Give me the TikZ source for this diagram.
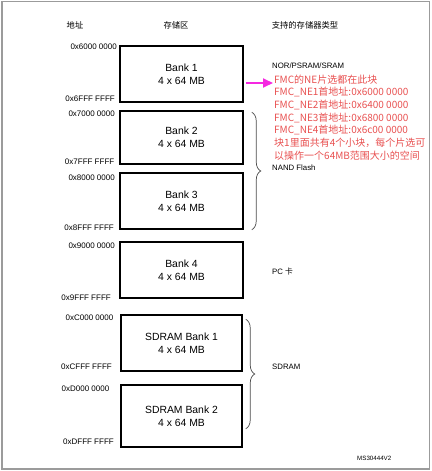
\documentclass[tikz,border=0pt]{standalone}
\usepackage{fontspec}
\setmainfont{Liberation Sans}
\newfontfamily\cjk{Noto Sans CJK SC}
\usepackage{xcolor}
\usepackage{tikz}
\usetikzlibrary{arrows.meta,decorations.pathreplacing,positioning,calc}

\definecolor{framegray}{RGB}{155,155,155}
\definecolor{notered}{RGB}{232,80,80}
\definecolor{arrowpink}{RGB}{245,40,225}

\tikzset{
  bankbox/.style={draw=black, line width=1.5pt, minimum width=123pt, minimum height=56pt, align=center, inner sep=0pt, font=\fontsize{10.4}{13.3}\selectfont},
  addr/.style={anchor=east, inner sep=0pt, font=\fontsize{8}{9}\selectfont},
  memtype/.style={anchor=west, inner sep=0pt, font=\fontsize{7.8}{9}\selectfont},
  header/.style={inner sep=0pt, font=\cjk\fontsize{8.3}{9}\selectfont},
  bankbrace/.style={decorate, decoration={brace, amplitude=9pt}, draw=black!70, line width=0.7pt},
  pinkarrow/.style={draw=arrowpink, line width=2pt, shorten <=2pt, -{Triangle[length=10pt,width=9pt]}}
}

\begin{document}
\begin{tikzpicture}[x=1pt,y=-1pt]
\useasboundingbox (0,0) rectangle (431,471);
\draw[framegray, line width=1.5pt] (2,1.5) rectangle (429.5,469);

% column heads
\node[header] (hAddr) at (75,25) {地址};
\node[header] (hBank) at (176,25) {存储区};
\node[header] (hType) at (305,25) {支持的存储器类型};

% memory banks
\node[bankbox] (bank1) at (181.5,74) {Bank 1\\4 x 64 MB};
\node[bankbox, minimum height=53pt] (bank2) at (181.5,137.5) {Bank 2\\4 x 64 MB};
\node[bankbox] (bank3) at (181.5,201) {Bank 3\\4 x 64 MB};
\node[bankbox] (bank4) at (181.5,270) {Bank 4\\4 x 64 MB};
\node[bankbox, minimum width=121pt] (sdram1) at (181.5,343) {SDRAM Bank 1\\4 x 64 MB};
\node[bankbox, minimum width=121pt, minimum height=62pt] (sdram2) at (181.5,416) {SDRAM Bank 2\\4 x 64 MB};

% addresses
\node[addr] (a1s) at (117,47) {0x6000 0000};
\node[addr] (a1e) at (115,99) {0x6FFF FFFF};
\node[addr] (a2s) at (115,114) {0x7000 0000};
\node[addr] (a2e) at (114.5,162) {0x7FFF FFFF};
\node[addr] (a3s) at (115,178) {0x8000 0000};
\node[addr] (a3e) at (114,227.5) {0x8FFF FFFF};
\node[addr] (a4s) at (115,246) {0x9000 0000};
\node[addr] (a4e) at (111,298) {0x9FFF FFFF};
\node[addr] (a5s) at (113.5,318) {0xC000 0000};
\node[addr] (a5e) at (112,367) {0xCFFF FFFF};
\node[addr] (a6s) at (109.5,389) {0xD000 0000};
\node[addr] (a6e) at (114,442) {0xDFFF FFFF};

% memory types
\node[memtype] (tNor) at (272,66) {NOR/PSRAM/SRAM};
\node[memtype] (tNand) at (272,168) {NAND Flash};
\node[memtype] (tPc) at (272,272) {PC {\cjk 卡}};
\node[memtype] (tSdram) at (272,367) {SDRAM};
\node[memtype, font=\fontsize{6.2}{7}\selectfont] (tRef) at (357,458) {MS30444V2};

\draw[bankbrace] ([xshift=8pt,yshift=-2pt]bank2.north east) -- ([xshift=8pt]bank3.south east);
\draw[bankbrace] ([xshift=3pt,yshift=-5pt]sdram1.north east) -- ([xshift=3pt,yshift=19pt]sdram2.south east);

% note on the NE chip selects
\node[anchor=north west, inner sep=0pt, align=left, text=notered, font=\cjk\fontsize{10}{12.7}\selectfont] (neNote) at (274,74.5) {FMC的NE片选都在此块\\FMC\_NE1首地址:0x6000 0000\\FMC\_NE2首地址:0x6400 0000\\FMC\_NE3首地址:0x6800 0000\\FMC\_NE4首地址:0x6c00 0000\\块1里面共有4个小块，每个片选可\\以操作一个64MB范围大小的空间};
\coordinate (neTip) at ($(neNote.north west)+(-1,8.5)$);
\draw[pinkarrow] (bank1.east |- neTip) -- (neTip);

\end{tikzpicture}
\end{document}
